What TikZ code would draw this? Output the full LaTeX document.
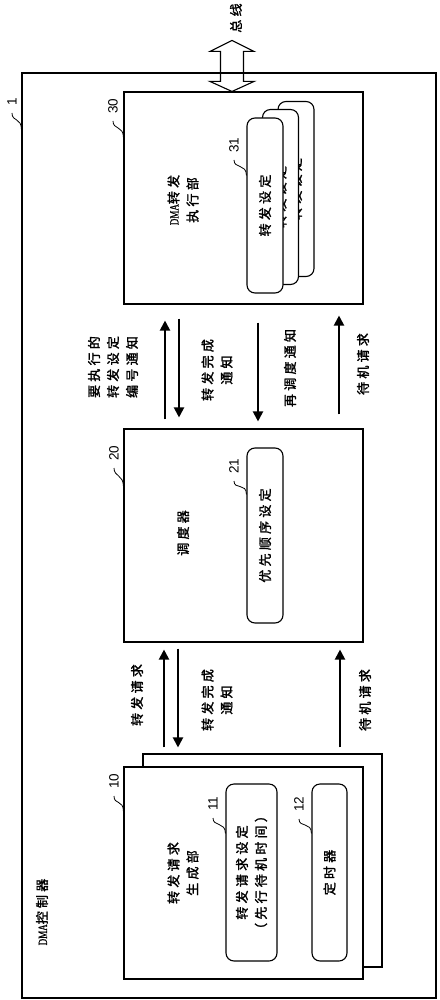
\documentclass[tikz,border=0pt]{standalone}
\usepackage{fontspec}
\setmainfont{Liberation Serif}
\newfontfamily\cjk{Noto Sans CJK SC}[LetterSpace=25,FakeBold=1.8]
\newfontfamily\numfont{Liberation Sans}
\newfontfamily\latfont{Liberation Serif}[FakeStretch=0.72,FakeBold=1]
\newcommand{\lat}[1]{{\latfont\fontsize{12.5}{19}\selectfont #1}}
\usetikzlibrary{arrows.meta,positioning}

\begin{document}
\begin{tikzpicture}[x=1pt,y=-1pt,
  blk/.style={draw,line width=1.1pt,fill=white,inner sep=0pt},
  setting/.style={draw,line width=1.1pt,fill=white,rounded corners=8pt,inner sep=0pt},
  txt/.style={rotate=90,align=center,inner sep=1pt,font=\cjk\fontsize{13}{19}\selectfont},
  num/.style={rotate=90,anchor=west,inner sep=7pt,font=\numfont\fontsize{13.5}{13.5}\selectfont},
  arr/.style={-{Triangle[length=10pt,width=10pt]},line width=2pt},
  lead/.style={line width=0.8pt}
]
\useasboundingbox (0,0) rectangle (439,1000);
% controller
\node[blk,fill=none,minimum width=414pt,minimum height=925pt] (dma) at (229,535.5) {};
\node[txt] (dmalbl) at (42,912) {\lat{DMA}控制器};

% transfer execution unit
\node[blk,minimum width=239pt,minimum height=212pt] (exec) at (243.5,198) {};
\node[txt] (execlbl) at (183,200) {\lat{DMA}转发\\执行部};
\node[setting,minimum width=36pt,minimum height=175pt] (s31c) at (296,189) {};
\node[txt] (t31c) at (s31c) {转发设定};
\node[setting,minimum width=36pt,minimum height=175pt] (s31b) at (280.5,197) {};
\node[txt] (t31b) at (s31b) {转发设定};
\node[setting,minimum width=36pt,minimum height=175pt] (s31a) at (265,205.5) {};
\node[txt] (t31a) at (s31a) {转发设定};

% bus
\coordinate (bustip) at ([shift={(-11.5,0)}]exec.north);
\draw[line width=1.1pt] (bustip) -- ++(22,-10) -- ++(-10.5,0) -- ++(0,-30) -- ++(10.5,0)
  -- ++(-22,-11) -- ++(-22,11) -- ++(10.5,0) -- ++(0,30) -- ++(-10.5,0) -- cycle;
\node[txt] (buslbl) at (236,18) {总线};

% scheduler
\node[blk,minimum width=239pt,minimum height=213pt] (sched) at (243.5,535.5) {};
\node[txt] (schedlbl) at (183,533) {调度器};
\node[setting,minimum width=36pt,minimum height=175pt] (s21) at (265,535.5) {};
\node[txt] (t21) at (s21) {优先顺序设定};

% request generators
\node[blk,minimum width=239pt,minimum height=213pt] (genb) at (262.5,860.5) {};
\node[blk,minimum width=239pt,minimum height=212pt] (gen) at (243.5,873) {};
\node[txt] (genlbl) at (183,873) {转发请求\\生成部};
\node[setting,minimum width=51pt,minimum height=177pt] (s11) at (251.5,872.5) {};
\node[txt] (t11) at (s11) {转发请求设定\\（先行待机时间）};
\node[setting,minimum width=35pt,minimum height=177pt] (s12) at (329.5,872.5) {};
\node[txt] (t12) at (s12) {定时器};

% exec <-> scheduler
\draw[arr] ([shift={(-78.5,-9)}]sched.north) -- ([shift={(-78.5,16)}]exec.south);
\draw[arr] ([shift={(-64.5,14)}]exec.south) -- ([shift={(-64.5,-11)}]sched.north);
\draw[arr] ([shift={(14.5,18)}]exec.south) -- ([shift={(14.5,-7)}]sched.north);
\draw[arr] ([shift={(95.5,-14)}]sched.north) -- ([shift={(95.5,11)}]exec.south);
\node[txt] (m1) at (113,367) {要执行的\\转发设定\\编号通知};
\node[txt] (m2) at (217,370) {转发完成\\通知};
\node[txt] (m3) at (290,368) {再调度通知};
\node[txt] (m4) at (363,364) {待机请求};

% scheduler <-> generators
\draw[arr] ([shift={(-98.5,-6)}]genb.north) -- ([shift={(-79.5,7)}]sched.south);
\draw[arr] ([shift={(-65.5,6)}]sched.south) -- ([shift={(-84.5,-6)}]genb.north);
\draw[arr] ([shift={(77.5,-6)}]genb.north) -- ([shift={(96.5,7)}]sched.south);
\node[txt] (m5) at (137,695) {转发请求};
\node[txt] (m6) at (217,700) {转发完成\\通知};
\node[txt] (m7) at (365,700) {待机请求};

% reference numbers
\node[num] (n1) at (12,113) {1};
\draw[lead] (n1.west) .. controls +(0,9) and +(0,-12) .. ([shift={(0,57)}]dma.north west);
\node[num] (n30) at (113,121) {30};
\draw[lead] (n30.west) .. controls +(0,9) and +(0,-12) .. ([shift={(0,46)}]exec.north west);
\node[num] (n31) at (234,160) {31};
\draw[lead] (n31.west) .. controls +(0,9) and +(0,-12) .. ([shift={(0,58)}]s31a.north west);
\node[num] (n20) at (114,468) {20};
\draw[lead] (n20.west) .. controls +(0,9) and +(0,-12) .. ([shift={(0,58)}]sched.north west);
\node[num] (n21) at (234,481) {21};
\draw[lead] (n21.west) .. controls +(0,9) and +(0,-12) .. ([shift={(0,47)}]s21.north west);
\node[num] (n10) at (114,796) {10};
\draw[lead] (n10.west) .. controls +(0,9) and +(0,-12) .. ([shift={(0,45)}]gen.north west);
\node[num] (n11) at (213,818) {11};
\draw[lead] (n11.west) .. controls +(0,9) and +(0,-12) .. ([shift={(0,50)}]s11.north west);
\node[num] (n12) at (299,819) {12};
\draw[lead] (n12.west) .. controls +(0,9) and +(0,-12) .. ([shift={(0,50)}]s12.north west);
\end{tikzpicture}
\end{document}
